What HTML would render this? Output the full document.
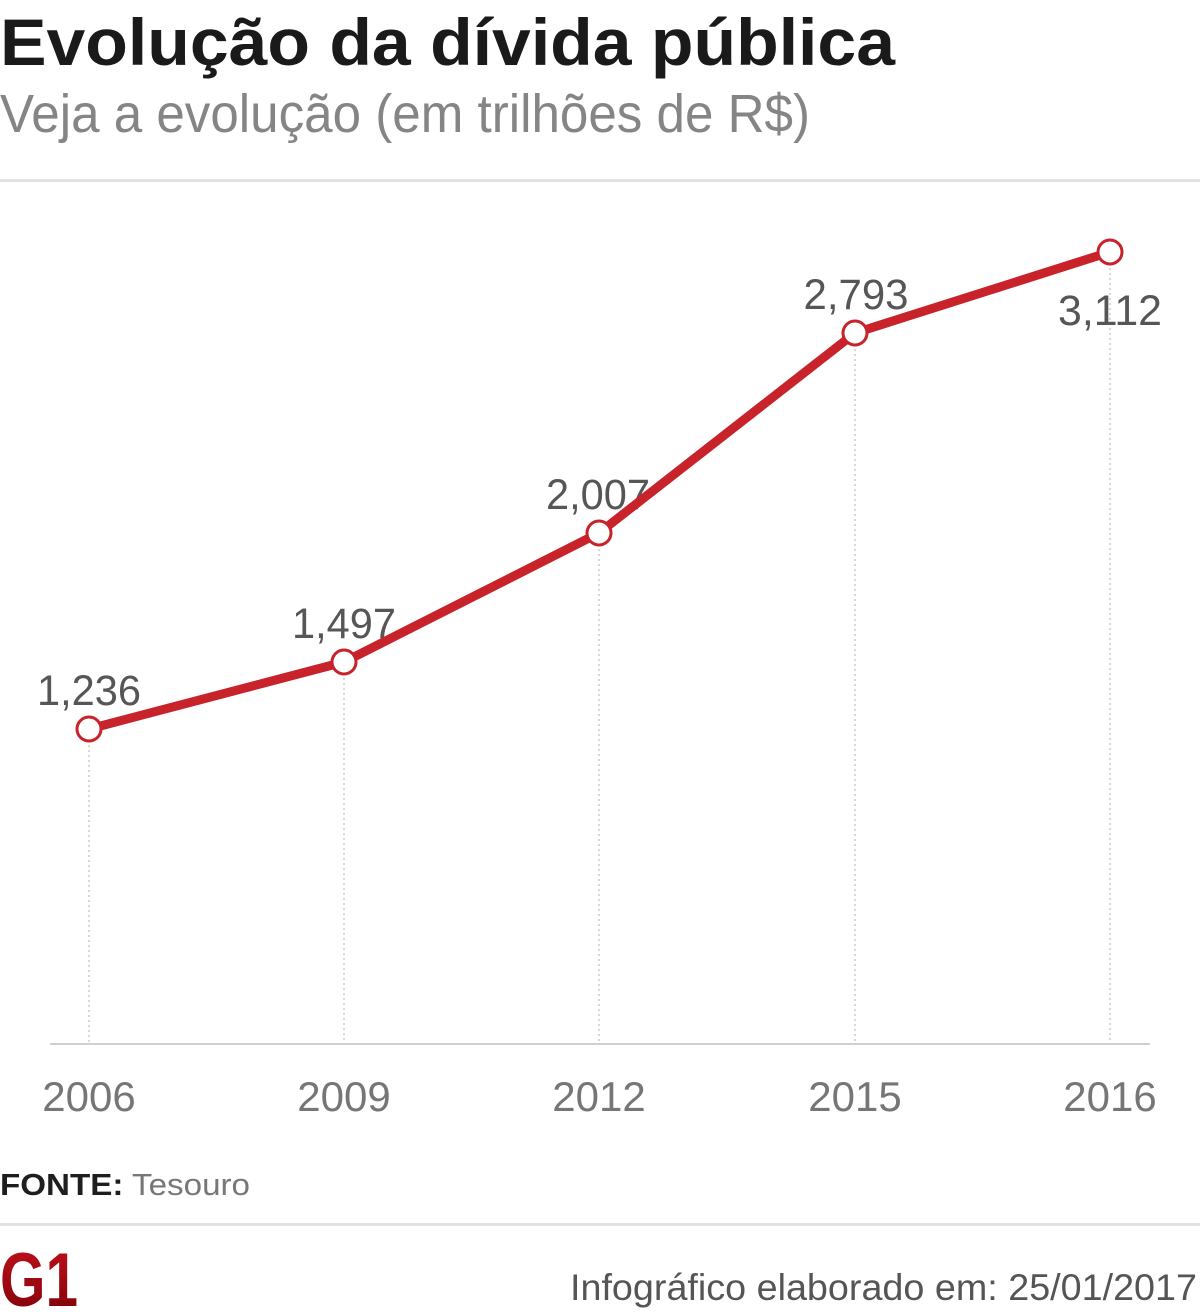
<!DOCTYPE html>
<html>
<head>
<meta charset="utf-8">
<style>
  html, body { margin: 0; padding: 0; background: #fff; }
  svg { display: block; }
  text { font-family: "Liberation Sans", "DejaVu Sans", sans-serif; }
</style>
</head>
<body>
<svg width="1200" height="1314" viewBox="0 0 1200 1314" xmlns="http://www.w3.org/2000/svg">
  <defs>
    <linearGradient id="g1grad" x1="0" y1="0" x2="0" y2="1">
      <stop offset="0" stop-color="#c4121c"/>
      <stop offset="1" stop-color="#7c0008"/>
    </linearGradient>
  </defs>
  <rect width="1200" height="1314" fill="#fff"/>

  <!-- Title -->
  <text x="0" y="65" font-size="66" font-weight="bold" fill="#1a1a1a" textLength="895" lengthAdjust="spacingAndGlyphs">Evolução da dívida pública</text>
  <text x="0" y="132" font-size="54" fill="#858585" textLength="810" lengthAdjust="spacingAndGlyphs">Veja a evolução (em trilhões de R$)</text>

  <rect x="0" y="179" width="1200" height="3" fill="#e2e2e2"/>

  <!-- dotted vertical guides -->
  <g stroke="#d8d8d8" stroke-width="2" stroke-dasharray="2,3">
    <line x1="89" y1="740" x2="89" y2="1043"/>
    <line x1="344" y1="673" x2="344" y2="1043"/>
    <line x1="599" y1="544" x2="599" y2="1043"/>
    <line x1="855" y1="344" x2="855" y2="1043"/>
    <line x1="1110" y1="263" x2="1110" y2="1043"/>
  </g>

  <!-- baseline -->
  <line x1="50" y1="1044" x2="1150" y2="1044" stroke="#cfcfcf" stroke-width="2"/>

  <!-- value labels -->
  <g font-size="43" fill="#565656" text-anchor="middle">
    <text x="89" y="705" textLength="104" lengthAdjust="spacingAndGlyphs">1,236</text>
    <text x="344" y="638" textLength="104" lengthAdjust="spacingAndGlyphs">1,497</text>
    <text x="598" y="509" textLength="104" lengthAdjust="spacingAndGlyphs">2,007</text>
    <text x="856" y="309" textLength="105" lengthAdjust="spacingAndGlyphs">2,793</text>
    <text x="1110" y="325" textLength="104" lengthAdjust="spacingAndGlyphs">3,112</text>
  </g>

  <!-- series line -->
  <polyline points="89,729 344,662 599,533 855,333 1110,252" fill="none" stroke="#c8222b" stroke-width="9" stroke-linejoin="round" stroke-linecap="round"/>
  <g fill="#fff" stroke="#c8222b" stroke-width="3">
    <circle cx="89" cy="729" r="12"/>
    <circle cx="344" cy="662" r="12"/>
    <circle cx="599" cy="533" r="12"/>
    <circle cx="855" cy="333" r="12"/>
    <circle cx="1110" cy="252" r="12"/>
  </g>

  <!-- x axis labels -->
  <g font-size="42" fill="#767676" text-anchor="middle">
    <text x="89" y="1111">2006</text>
    <text x="344" y="1111">2009</text>
    <text x="599" y="1111">2012</text>
    <text x="855" y="1111">2015</text>
    <text x="1110" y="1111">2016</text>
  </g>

  <!-- source -->
  <text x="0" y="1195" font-size="31" textLength="250" lengthAdjust="spacingAndGlyphs"><tspan font-weight="bold" fill="#1e1e1e">FONTE:</tspan><tspan fill="#777"> Tesouro</tspan></text>

  <rect x="0" y="1223" width="1200" height="3" fill="#e2e2e2"/>

  <!-- G1 logo -->
  <text x="0" y="1306" font-size="76" font-weight="bold" fill="url(#g1grad)" textLength="78" lengthAdjust="spacingAndGlyphs">G1</text>

  <text x="1197" y="1300" font-size="37" fill="#555" text-anchor="end" textLength="627" lengthAdjust="spacingAndGlyphs">Infográfico elaborado em: 25/01/2017</text>
</svg>
</body>
</html>
